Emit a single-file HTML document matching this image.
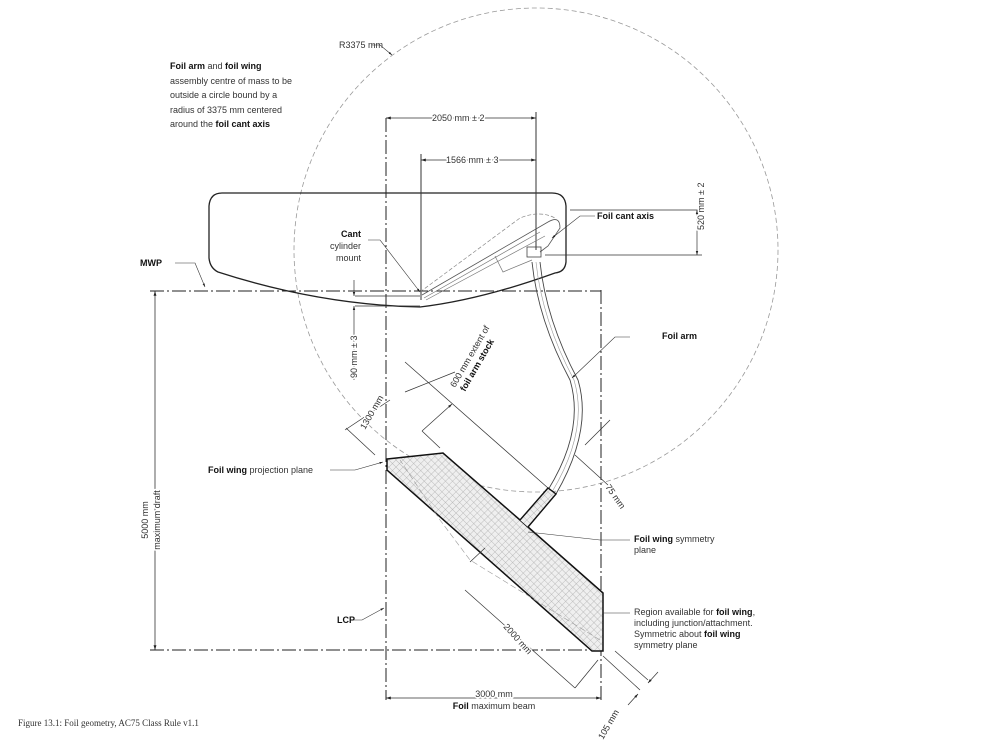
<!DOCTYPE html>
<html><head><meta charset="utf-8"><style>
html,body{margin:0;padding:0;background:#fff}
svg{display:block}
text{font-family:"Liberation Sans",sans-serif;fill:#333;font-size:9px}
.b{font-weight:bold;fill:#111}
.d{stroke:#fff;stroke-width:3px;paint-order:stroke;stroke-linejoin:round}
</style></head><body>
<svg width="1000" height="751" viewBox="0 0 1000 751" xmlns="http://www.w3.org/2000/svg">
<defs>
<pattern id="h" width="5" height="5" patternUnits="userSpaceOnUse" patternTransform="rotate(45)">
<rect width="5" height="5" fill="#efefef"/>
<path d="M0 0V5M0 0H5" stroke="#aaa" stroke-width="0.7"/>
</pattern>
<marker id="a" viewBox="0 0 10 10" refX="10" refY="5" markerWidth="6" markerHeight="6" orient="auto-start-reverse"><path d="M0 2L10 5L0 8z" fill="#222"/></marker>
</defs>
<g fill="none" stroke="#333">
<circle cx="536" cy="250" r="242" stroke="#999" stroke-width="0.8" stroke-dasharray="5 3"/>
<g stroke="#222" stroke-width="1" stroke-dasharray="14 3 2 3">
<line x1="386" y1="118" x2="386" y2="700"/>
<line x1="601" y1="290" x2="601" y2="700"/>
<line x1="150" y1="291" x2="601" y2="291"/>
<line x1="150" y1="650" x2="601" y2="650"/>
</g>
<path d="M222 193H552Q565 193 566 206V262Q565 272 555 273Q480 300 420 307Q320 305 218 272Q210 268 209 258V206Q210 193 222 193Z" stroke="#222" stroke-width="1.3"/>
<line x1="536" y1="112" x2="536" y2="250" stroke-width="1"/>
<line x1="421" y1="154" x2="421" y2="300" stroke-width="1"/>
<line x1="386" y1="118" x2="536" y2="118" stroke-width="0.8" marker-start="url(#a)" marker-end="url(#a)"/>
<line x1="421" y1="160" x2="536" y2="160" stroke-width="0.8" marker-start="url(#a)" marker-end="url(#a)"/>
<line x1="545" y1="255" x2="702" y2="255" stroke-width="0.7"/>
<line x1="570" y1="210" x2="702" y2="210" stroke-width="0.7"/>
<line x1="697" y1="210" x2="697" y2="255" stroke-width="0.7" marker-start="url(#a)" marker-end="url(#a)"/>
<line x1="355" y1="296" x2="420" y2="296" stroke-width="0.7"/>
<line x1="355" y1="306" x2="420" y2="306" stroke-width="0.7"/>
<line x1="354" y1="280" x2="354" y2="296" stroke-width="0.7" marker-end="url(#a)"/>
<line x1="354" y1="322" x2="354" y2="306" stroke-width="0.7" marker-end="url(#a)"/>
<line x1="354" y1="322" x2="354" y2="380" stroke-width="0.7"/>
<line x1="155" y1="291" x2="155" y2="650" stroke-width="0.8" marker-start="url(#a)" marker-end="url(#a)"/>
<line x1="386" y1="698" x2="601" y2="698" stroke-width="0.8" marker-start="url(#a)" marker-end="url(#a)"/>
<path d="M422 295L548 222Q560 215 560 228L548 246L540 252" stroke="#555" stroke-width="0.8"/>
<path d="M424 298L540 232M426 300L545 236" stroke="#777" stroke-width="0.7"/>
<path d="M420 292L520 218Q540 210 555 218" stroke="#888" stroke-width="0.7" stroke-dasharray="4 2"/>
<path d="M495 256L503 272L532 260" stroke="#777" stroke-width="0.7"/>
<rect x="527" y="247" width="14" height="10" stroke="#444" stroke-width="0.8"/>
<path d="M532 262Q538 320 570 380Q585 430 548 490" stroke="#444" stroke-width="0.9"/>
<path d="M540 262Q546 320 578 380Q593 430 556 494" stroke="#444" stroke-width="0.9"/>
<path d="M536 262Q542 320 574 380Q589 430 552 492" stroke="#999" stroke-width="0.6"/>
<path d="M387 459L443 453L520 520L528 527L603 593L603 651L592 651L387 470Z" fill="url(#h)" stroke="#111" stroke-width="1.5"/>
<path d="M520 520L548 488L556 494L528 527" fill="url(#h)" stroke="#111" stroke-width="1.4"/>
<path d="M600 640L470 560L440 520L400 460" stroke="#999" stroke-width="0.6" stroke-dasharray="6 3"/>
<path d="M345 430L390 400M405 392L455 372" stroke="#333" stroke-width="0.7"/>
<line x1="346" y1="428" x2="375" y2="455" stroke-width="0.7"/>
<line x1="405" y1="362" x2="548" y2="488" stroke-width="0.7"/>
<line x1="422" y1="431" x2="452" y2="404" stroke-width="0.7" marker-end="url(#a)"/>
<line x1="422" y1="431" x2="440" y2="448" stroke-width="0.7"/>
<line x1="470" y1="562" x2="485" y2="548" stroke-width="0.7"/>
<line x1="465" y1="590" x2="575" y2="688" stroke-width="0.7"/>
<line x1="575" y1="688" x2="598" y2="660" stroke-width="0.7"/>
<line x1="603" y1="656" x2="640" y2="690" stroke-width="0.7"/>
<line x1="615" y1="651" x2="648" y2="680" stroke-width="0.7"/>
<line x1="628" y1="705" x2="638" y2="694" stroke-width="0.7" marker-end="url(#a)"/>
<line x1="658" y1="672" x2="648" y2="683" stroke-width="0.7" marker-end="url(#a)"/>
<line x1="575" y1="455" x2="608" y2="485" stroke-width="0.7"/>
<line x1="585" y1="445" x2="610" y2="420" stroke-width="0.7"/>
<path d="M372 45H380L392 55" stroke-width="0.6" marker-end="url(#a)"/>
<path d="M630 337H615L572 378" stroke-width="0.6" marker-end="url(#a)"/>
<path d="M595 216H580L552 238" stroke-width="0.6" marker-end="url(#a)"/>
<path d="M175 263H195L205 287" stroke-width="0.6" marker-end="url(#a)"/>
<path d="M368 240H380L420 292" stroke-width="0.6" marker-end="url(#a)"/>
<path d="M330 470H355L383 462" stroke-width="0.6" marker-end="url(#a)"/>
<path d="M350 620H362L384 608" stroke-width="0.6" marker-end="url(#a)"/>
<path d="M630 540H600L528 532" stroke-width="0.6"/>
<path d="M630 613H603" stroke-width="0.6"/>
</g>
<text x="339" y="48" font-size="8">R3375 mm</text>
<text x="170" y="69" font-size="10.5"><tspan class="b">Foil arm</tspan> and <tspan class="b">foil wing</tspan></text>
<text x="170" y="84" font-size="10.5">assembly centre of mass to be</text>
<text x="170" y="98" font-size="10.5">outside a circle bound by a</text>
<text x="170" y="113" font-size="10.5">radius of 3375 mm centered</text>
<text x="170" y="127" font-size="10.5">around the <tspan class="b">foil cant axis</tspan></text>
<text x="432" y="121" font-size="8" class="d">2050 mm ± 2</text>
<text x="446" y="163" font-size="8" class="d">1566 mm ± 3</text>
<text x="597" y="219" class="b" font-size="9">Foil cant axis</text>
<text transform="translate(704 230) rotate(-90)" font-size="8" class="d">520 mm ± 2</text>
<text x="361" y="237" text-anchor="end" class="b">Cant</text>
<text x="361" y="249" text-anchor="end">cylinder</text>
<text x="361" y="261" text-anchor="end">mount</text>
<text x="140" y="266" class="b">MWP</text>
<text transform="translate(357 378) rotate(-90)" font-size="8" class="d">90 mm ± 3</text>
<text x="662" y="339" class="b">Foil arm</text>
<text transform="translate(455 388) rotate(-60)" font-size="8" class="d">600 mm extent of</text>
<text transform="translate(465 392) rotate(-60)" font-size="8" class="b d">foil arm stock</text>
<text transform="translate(365 430) rotate(-60)" font-size="8" class="d">1300 mm</text>
<text x="208" y="473"><tspan class="b">Foil wing</tspan> projection plane</text>
<text transform="translate(148 520) rotate(-90)" font-size="8" text-anchor="middle" class="d">5000 mm</text>
<text transform="translate(160 520) rotate(-90)" font-size="8" text-anchor="middle" class="d">maximum draft</text>
<text transform="translate(605 487) rotate(55)" font-size="8" class="d">75 mm</text>
<text x="634" y="542"><tspan class="b">Foil wing</tspan> symmetry</text>
<text x="634" y="553">plane</text>
<text x="634" y="615" font-size="8.5">Region available for <tspan class="b">foil wing</tspan>,</text>
<text x="634" y="626" font-size="8.5">including junction/attachment.</text>
<text x="634" y="637" font-size="8.5">Symmetric about <tspan class="b">foil wing</tspan></text>
<text x="634" y="648" font-size="8.5">symmetry plane</text>
<text x="337" y="623" class="b">LCP</text>
<text transform="translate(503 627) rotate(48)" font-size="8" class="d">2000 mm</text>
<text x="494" y="697" text-anchor="middle" font-size="8" class="d">3000 mm</text>
<text x="494" y="709" text-anchor="middle"><tspan class="b">Foil</tspan> maximum beam</text>
<text transform="translate(603 740) rotate(-60)" font-size="8">105 mm</text>
<text x="18" y="726" font-size="12" style="font-family:'Liberation Serif',serif" fill="#222">Figure 13.1: Foil geometry, AC75 Class Rule v1.1</text>
</svg>
</body></html>
